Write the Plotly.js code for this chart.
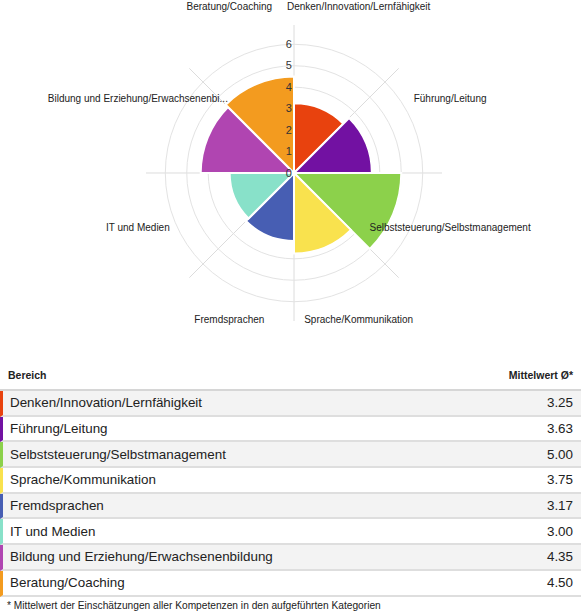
<!DOCTYPE html>
<html>
<head>
<meta charset="utf-8">
<script src="https://cdn.plot.ly/plotly-3.0.1.min.js"></script>
<style>
  body { margin: 0; background: #fff; font-family: "Liberation Sans", Arial, sans-serif; color: #222; }
  #chart { width: 581px; height: 360px; }
  .head { display: flex; justify-content: space-between; height: 29px; align-items: center;
          font-size: 10.5px; font-weight: bold; padding: 0 8px 0 8px; border-bottom: 2px solid #d6d6d6; }
  .row { display: flex; justify-content: space-between; align-items: center; box-sizing: border-box;
         height: 25.7px; font-size: 13.4px; padding: 0 8px 0 7px; border-left: 3px solid #ccc;
         border-bottom: 2px solid #dedede; }
  .row:nth-child(odd) { background: #f3f3f3; }
  .row:nth-child(even) { background: #fff; }
  .note { font-size: 10.2px; padding: 3px 0 0 7px; }
</style>
</head>
<body>
<div id="chart"></div>
<div id="table"></div>

<script>
var categories = [
  'Denken/Innovation/Lernfähigkeit',
  'Führung/Leitung',
  'Selbststeuerung/Selbstmanagement',
  'Sprache/Kommunikation',
  'Fremdsprachen',
  'IT und Medien',
  'Bildung und Erziehung/Erwachsenenbildung',
  'Beratung/Coaching'
];
var values = [3.25, 3.63, 5.00, 3.75, 3.17, 3.00, 4.35, 4.50];
var colors = ['#E8420E', '#7211A2', '#8CD14B', '#F9E24E', '#475EB3', '#88E1C9', '#B045B1', '#F39B1F'];
var radialTicks = [0, 1, 2, 3, 4, 5, 6];

var step = 360 / categories.length;
var mids = categories.map(function(c, i) { return i * step + step / 2; });
var edges = categories.map(function(c, i) { return i * step; });

// axis labels get cut after 35 characters
var shortLabels = categories.map(function(c) {
  return c.length > 35 ? c.slice(0, 35) + '...' : c;
});

var bars = {
  type: 'barpolar',
  r: values,
  theta: mids,
  width: categories.map(function() { return step; }),
  marker: { color: colors, line: { color: '#fff', width: 2 } },
  hoverinfo: 'skip',
  showlegend: false
};

// category names sit on a second, larger polar
var labels = {
  type: 'scatterpolar',
  subplot: 'polar2',
  mode: 'text',
  r: categories.map(function() { return 8; }),
  theta: mids,
  text: shortLabels,
  textposition: 'top center',
  textfont: { size: 10, color: '#222', family: 'Liberation Sans, Arial, sans-serif' },
  cliponaxis: false,
  hoverinfo: 'skip',
  showlegend: false
};

var hidden = { visible: false, showgrid: false, showline: false, showticklabels: false, ticks: '' };

var layout = {
  width: 581,
  height: 360,
  margin: { l: 0, r: 0, t: 0, b: 0 },
  paper_bgcolor: '#fff',
  showlegend: false,
  font: { family: 'Liberation Sans, Arial, sans-serif', color: '#222' },
  polar: {
    domain: { x: [0.2513, 0.7608], y: [0.1083, 0.9306] },
    bgcolor: '#fff',
    bargap: 0,
    radialaxis: {
      range: [0, 6.9],
      angle: 90,
      tickangle: 90,
      tickvals: radialTicks,
      showline: false,
      ticks: '',
      gridcolor: '#e3e3e3',
      gridwidth: 1,
      side: 'counterclockwise',
      tickfont: { size: 11, color: '#333' }
    },
    angularaxis: {
      type: 'linear',
      direction: 'clockwise',
      rotation: 90,
      tickvals: edges,
      showticklabels: false,
      ticks: '',
      showline: false,
      gridcolor: '#dcdcdc',
      gridwidth: 1
    }
  },
  polar2: {
    domain: { x: [0.2151, 0.7969], y: [0.0611, 1] },
    bgcolor: 'rgba(0,0,0,0)',
    radialaxis: Object.assign({ range: [0, 8] }, hidden),
    angularaxis: Object.assign({ type: 'linear', direction: 'clockwise', rotation: 90 }, hidden)
  }
};

Plotly.newPlot('chart', [bars, labels], layout, { displayModeBar: false, staticPlot: true });

var html = '<div class="head"><span>Bereich</span><span>Mittelwert Ø*</span></div><div>';
categories.forEach(function(c, i) {
  html += '<div class="row" style="border-left-color:' + colors[i] + '"><span>' + c +
          '</span><span>' + values[i].toFixed(2) + '</span></div>';
});
html += '</div><div class="note">* Mittelwert der Einschätzungen aller Kompetenzen in den aufgeführten Kategorien</div>';
document.getElementById('table').innerHTML = html;
</script>
</body>
</html>
